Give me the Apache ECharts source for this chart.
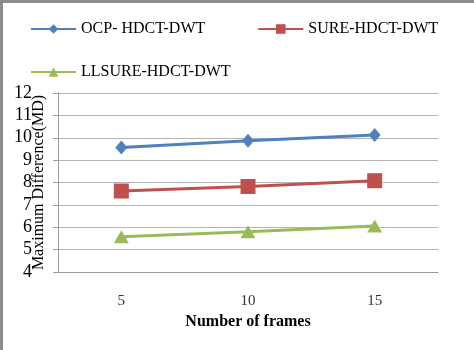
<!DOCTYPE html>
<html>
<head>
<meta charset="utf-8">
<script src="https://cdn.jsdelivr.net/npm/echarts@6/dist/echarts.min.js"></script>
<style>
  html, body { margin: 0; padding: 0; background: #fff; }
  #chart { width: 474px; height: 350px; box-sizing: border-box; border-top: 3px solid #8c8c8c; border-left: 3px solid #8c8c8c; }
</style>
</head>
<body>
<div id="chart"></div>
<script>
// data
const frames = ['5', '10', '15']
const ocp = [9.56, 9.87, 10.12]
const sure = [7.62, 7.82, 8.08]
const llsure = [5.58, 5.8, 6.06]

const font = 'Liberation Serif'

const myChart = echarts.init(document.getElementById('chart'))
myChart.setOption({
  animation: false,
  textStyle: { fontFamily: font },
  color: ['#4F81BD', '#C0504D', '#9BBB59'],
  legend: [
    {
      data: ['OCP- HDCT-DWT', 'SURE-HDCT-DWT'],
      left: 22, top: 13,
      itemWidth: 45, itemHeight: 12, itemGap: 52,
      textStyle: { fontFamily: font, fontSize: 16, color: '#000' }
    },
    {
      data: ['LLSURE-HDCT-DWT'],
      left: 22, top: 56,
      itemWidth: 45, itemHeight: 12,
      textStyle: { fontFamily: font, fontSize: 16, color: '#000' }
    }
  ],
  grid: { left: 55, right: 36, top: 90, bottom: 78, containLabel: false },
  xAxis: {
    type: 'category',
    data: frames,
    boundaryGap: true,
    name: 'Number of frames',
    nameLocation: 'middle',
    nameGap: 42,
    nameTextStyle: { fontFamily: font, fontSize: 16, fontWeight: 'bold', color: '#000' },
    axisLine: { lineStyle: { color: '#9a9a9a' } },
    axisTick: { alignWithLabel: false, length: 5, lineStyle: { color: '#9a9a9a' } },
    axisLabel: { margin: 22, fontFamily: font, fontSize: 15, color: '#333' }
  },
  yAxis: {
    type: 'value',
    min: 4, max: 12, interval: 1,
    name: 'Maximum Difference(MD)',
    nameLocation: 'middle',
    nameGap: 11,
    nameRotate: 90,
    nameMoveOverlap: false,
    nameTextStyle: { fontFamily: font, fontSize: 16, color: '#000' },
    axisLine: { show: true, lineStyle: { color: '#9a9a9a' } },
    axisTick: { show: true, length: 5, lineStyle: { color: '#9a9a9a' } },
    axisLabel: { margin: 26, fontFamily: font, fontSize: 18, color: '#000' },
    splitLine: { lineStyle: { color: '#b4b4b4' } }
  },
  series: [
    {
      name: 'OCP- HDCT-DWT', type: 'line', data: ocp,
      symbol: 'diamond', symbolSize: [12, 14],
      lineStyle: { width: 3 }
    },
    {
      name: 'SURE-HDCT-DWT', type: 'line', data: sure,
      symbol: 'rect', symbolSize: 15,
      lineStyle: { width: 3 }
    },
    {
      name: 'LLSURE-HDCT-DWT', type: 'line', data: llsure,
      symbol: 'triangle', symbolSize: [15, 13],
      lineStyle: { width: 3 }
    }
  ]
})
</script>
</body>
</html>
